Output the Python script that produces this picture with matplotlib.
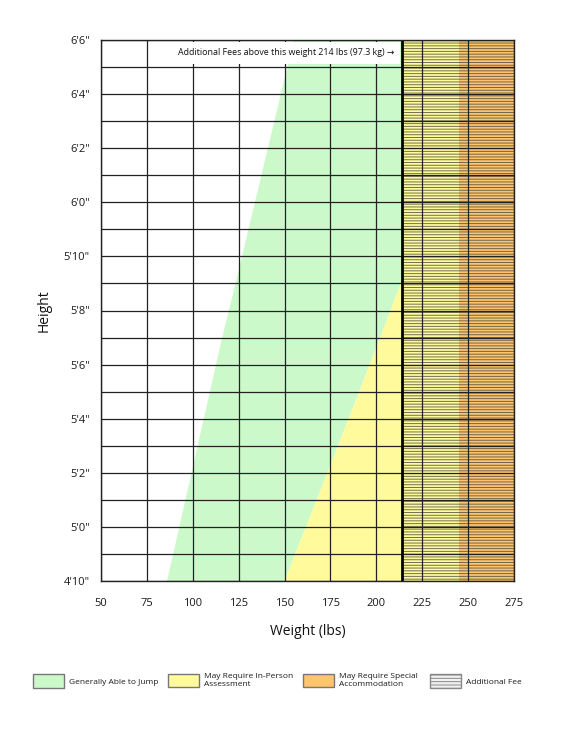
import numpy as np
import matplotlib
matplotlib.use("Agg")
import matplotlib.pyplot as plt
from matplotlib.patches import Patch

plt.rcParams['font.family'] = ['Open Sans', 'DejaVu Sans']
plt.rcParams['hatch.linewidth'] = 0.7
plt.rcParams['text.color'] = '#111111'

# ---- data ----
weight_ticks = [50, 75, 100, 125, 150, 175, 200, 225, 250, 275]
height_min, height_max = 58, 78          # inches (4'10" .. 6'6")
height_label_ticks = list(range(58, 79, 2))
fee_weight = 214
special_weight = 245
max_weight = 275

# lower edge of the "able to jump" zone (height in, weight lbs)
green_left_h = [58, 67, 69.2, 78]
green_left_w = [86, 116, 124, 155]
# green / yellow boundary
yellow_edge_h = [58, 61, 64.7, 69.1]
yellow_edge_w = [150, 167.5, 189, 214]

legend_labels = ["Generally Able to Jump", "May Require In-Person\nAssessment",
                 "May Require Special\nAccommodation", "Additional Fee"]
annot_text = "Additional Fees above this weight 214 lbs (97.3 kg) \u2192"

c_green = '#ccf9c9'
c_yellow = '#fffb9c'
c_orange = '#ffc46e'

fig = plt.figure(figsize=(5.8, 7.35), dpi=100)
ax = fig.add_axes([101/580, 1-581/735, 413/580, 541/735])
ax.set_xlim(weight_ticks[0], max_weight)
ax.set_ylim(height_min, height_max)

# green polygon
gx = [green_left_w[0]] + yellow_edge_w + [fee_weight] + green_left_w[::-1]
gy = [green_left_h[0]] + yellow_edge_h + [height_max] + green_left_h[::-1]
ax.fill(gx, gy, color=c_green, lw=0, zorder=1)
# yellow polygon (below boundary, up to fee weight)
yx = yellow_edge_w + [fee_weight, yellow_edge_w[0]]
yy = yellow_edge_h + [height_min, height_min]
ax.fill(yx, yy, color=c_yellow, lw=0, zorder=1)
ax.fill_betweenx([height_min, height_max], fee_weight, special_weight,
                 color=c_yellow, lw=0, zorder=1)
ax.fill_betweenx([height_min, height_max], special_weight, max_weight,
                 color=c_orange, lw=0, zorder=1)
# hatch over fee area
ax.fill_betweenx([height_min, height_max], fee_weight, max_weight,
                 facecolor='none', edgecolor=(0.3, 0.3, 0.25, 0.8),
                 hatch='------', lw=0, zorder=1.5)

# grid
for w in weight_ticks:
    ax.axvline(w, color='#222222', lw=0.9, zorder=2)
for h in range(height_min, height_max + 1):
    ax.axhline(h, color='#222222', lw=0.9, zorder=2)
ax.axvline(fee_weight, color='black', lw=2.0, zorder=4)

for s in ax.spines.values():
    s.set_color('#222222')
    s.set_linewidth(1.0)
    s.set_zorder(4)

ax.set_xticks(weight_ticks)
ax.set_xticklabels([str(w) for w in weight_ticks])
ax.set_yticks(height_label_ticks)
ax.set_yticklabels([f"{h//12}'{h%12}\"" for h in height_label_ticks])
ax.tick_params(length=0, labelsize=8, colors='#1a1a1a')
ax.tick_params(axis='x', pad=12)
ax.tick_params(axis='y', pad=8)
ax.set_xlabel("Weight (lbs)", fontsize=10, labelpad=11, color='#111111')
ax.set_ylabel("Height", fontsize=10, labelpad=9, color='#111111')

ax.text(209.6, 77.52, annot_text, ha='right', va='center', fontsize=6.4,
        color='#111111', zorder=3,
        bbox=dict(facecolor='white', edgecolor='none', pad=4.5))

# legend: one entry each, placed individually
handles = [
    Patch(facecolor=c_green, edgecolor='#777777', lw=1),
    Patch(facecolor=c_yellow, edgecolor='#777777', lw=1),
    Patch(facecolor=c_orange, edgecolor='#777777', lw=1),
    Patch(facecolor='#f2f2f2', edgecolor='#888888', lw=1, hatch='-----'),
]
fs_leg = 6
em = fs_leg * 100 / 72
xs = [33/580, 168/580, 303/580, 430/580]
for h, lab, x in zip(handles, legend_labels, xs):
    fig.legend(handles=[h], labels=[lab], loc='center left',
               bbox_to_anchor=(x, 1-681/735), frameon=False, fontsize=fs_leg,
               handlelength=31/em, handleheight=17/em, handletextpad=5/em,
               borderpad=0, borderaxespad=0, labelcolor='#1a1a1a')

fig.savefig("out.png", dpi=100)
